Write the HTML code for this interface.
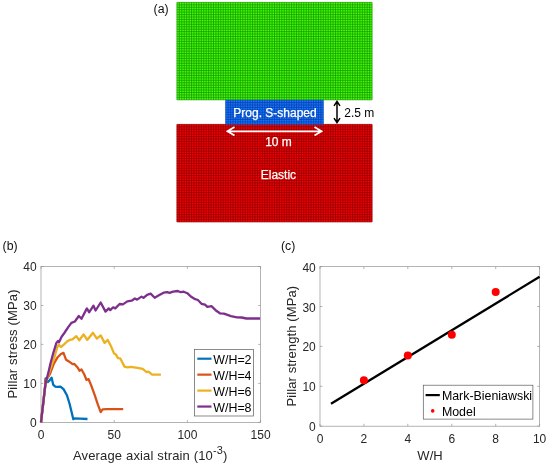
<!DOCTYPE html>
<html><head><meta charset="utf-8"><title>Figure</title>
<style>
html,body{margin:0;padding:0;background:#fff}
svg{display:block}
text{font-family:"Liberation Sans",Arial,sans-serif;fill:#262626}
.t{font-size:12px}
.l{font-size:13px}
.w{fill:#fff;stroke:#fff;stroke-width:.25px;font-size:12px}
.k{fill:#000;font-size:12px}
.p{font-size:12.3px;fill:#111}
.g{font-size:12.4px;fill:#000}
</style></head><body>
<svg width="550" height="467" viewBox="0 0 550 467">
<rect width="550" height="467" fill="#fff"/>
<rect x="176.9" y="2.4" width="195.2" height="97.4" fill="#40ff08"/><path d="M176.90,2.4v97.4M179.34,2.4v97.4M181.78,2.4v97.4M184.22,2.4v97.4M186.66,2.4v97.4M189.10,2.4v97.4M191.54,2.4v97.4M193.98,2.4v97.4M196.42,2.4v97.4M198.86,2.4v97.4M201.30,2.4v97.4M203.74,2.4v97.4M206.18,2.4v97.4M208.62,2.4v97.4M211.06,2.4v97.4M213.50,2.4v97.4M215.94,2.4v97.4M218.38,2.4v97.4M220.82,2.4v97.4M223.26,2.4v97.4M225.70,2.4v97.4M228.14,2.4v97.4M230.58,2.4v97.4M233.02,2.4v97.4M235.46,2.4v97.4M237.90,2.4v97.4M240.34,2.4v97.4M242.78,2.4v97.4M245.22,2.4v97.4M247.66,2.4v97.4M250.10,2.4v97.4M252.54,2.4v97.4M254.98,2.4v97.4M257.42,2.4v97.4M259.86,2.4v97.4M262.30,2.4v97.4M264.74,2.4v97.4M267.18,2.4v97.4M269.62,2.4v97.4M272.06,2.4v97.4M274.50,2.4v97.4M276.94,2.4v97.4M279.38,2.4v97.4M281.82,2.4v97.4M284.26,2.4v97.4M286.70,2.4v97.4M289.14,2.4v97.4M291.58,2.4v97.4M294.02,2.4v97.4M296.46,2.4v97.4M298.90,2.4v97.4M301.34,2.4v97.4M303.78,2.4v97.4M306.22,2.4v97.4M308.66,2.4v97.4M311.10,2.4v97.4M313.54,2.4v97.4M315.98,2.4v97.4M318.42,2.4v97.4M320.86,2.4v97.4M323.30,2.4v97.4M325.74,2.4v97.4M328.18,2.4v97.4M330.62,2.4v97.4M333.06,2.4v97.4M335.50,2.4v97.4M337.94,2.4v97.4M340.38,2.4v97.4M342.82,2.4v97.4M345.26,2.4v97.4M347.70,2.4v97.4M350.14,2.4v97.4M352.58,2.4v97.4M355.02,2.4v97.4M357.46,2.4v97.4M359.90,2.4v97.4M362.34,2.4v97.4M364.78,2.4v97.4M367.22,2.4v97.4M369.66,2.4v97.4M372.10,2.4v97.4M176.9,2.40h195.2M176.9,4.83h195.2M176.9,7.27h195.2M176.9,9.71h195.2M176.9,12.14h195.2M176.9,14.58h195.2M176.9,17.01h195.2M176.9,19.45h195.2M176.9,21.88h195.2M176.9,24.31h195.2M176.9,26.75h195.2M176.9,29.19h195.2M176.9,31.62h195.2M176.9,34.05h195.2M176.9,36.49h195.2M176.9,38.92h195.2M176.9,41.36h195.2M176.9,43.80h195.2M176.9,46.23h195.2M176.9,48.66h195.2M176.9,51.10h195.2M176.9,53.54h195.2M176.9,55.97h195.2M176.9,58.41h195.2M176.9,60.84h195.2M176.9,63.27h195.2M176.9,65.71h195.2M176.9,68.15h195.2M176.9,70.58h195.2M176.9,73.02h195.2M176.9,75.45h195.2M176.9,77.89h195.2M176.9,80.32h195.2M176.9,82.76h195.2M176.9,85.19h195.2M176.9,87.62h195.2M176.9,90.06h195.2M176.9,92.50h195.2M176.9,94.93h195.2M176.9,97.37h195.2M176.9,99.80h195.2" stroke="#189200" stroke-width="0.7" fill="none"/>
<rect x="176.9" y="124.4" width="195.2" height="97.5" fill="#fc0002"/><path d="M176.90,124.4v97.5M179.34,124.4v97.5M181.78,124.4v97.5M184.22,124.4v97.5M186.66,124.4v97.5M189.10,124.4v97.5M191.54,124.4v97.5M193.98,124.4v97.5M196.42,124.4v97.5M198.86,124.4v97.5M201.30,124.4v97.5M203.74,124.4v97.5M206.18,124.4v97.5M208.62,124.4v97.5M211.06,124.4v97.5M213.50,124.4v97.5M215.94,124.4v97.5M218.38,124.4v97.5M220.82,124.4v97.5M223.26,124.4v97.5M225.70,124.4v97.5M228.14,124.4v97.5M230.58,124.4v97.5M233.02,124.4v97.5M235.46,124.4v97.5M237.90,124.4v97.5M240.34,124.4v97.5M242.78,124.4v97.5M245.22,124.4v97.5M247.66,124.4v97.5M250.10,124.4v97.5M252.54,124.4v97.5M254.98,124.4v97.5M257.42,124.4v97.5M259.86,124.4v97.5M262.30,124.4v97.5M264.74,124.4v97.5M267.18,124.4v97.5M269.62,124.4v97.5M272.06,124.4v97.5M274.50,124.4v97.5M276.94,124.4v97.5M279.38,124.4v97.5M281.82,124.4v97.5M284.26,124.4v97.5M286.70,124.4v97.5M289.14,124.4v97.5M291.58,124.4v97.5M294.02,124.4v97.5M296.46,124.4v97.5M298.90,124.4v97.5M301.34,124.4v97.5M303.78,124.4v97.5M306.22,124.4v97.5M308.66,124.4v97.5M311.10,124.4v97.5M313.54,124.4v97.5M315.98,124.4v97.5M318.42,124.4v97.5M320.86,124.4v97.5M323.30,124.4v97.5M325.74,124.4v97.5M328.18,124.4v97.5M330.62,124.4v97.5M333.06,124.4v97.5M335.50,124.4v97.5M337.94,124.4v97.5M340.38,124.4v97.5M342.82,124.4v97.5M345.26,124.4v97.5M347.70,124.4v97.5M350.14,124.4v97.5M352.58,124.4v97.5M355.02,124.4v97.5M357.46,124.4v97.5M359.90,124.4v97.5M362.34,124.4v97.5M364.78,124.4v97.5M367.22,124.4v97.5M369.66,124.4v97.5M372.10,124.4v97.5M176.9,124.40h195.2M176.9,126.84h195.2M176.9,129.28h195.2M176.9,131.71h195.2M176.9,134.15h195.2M176.9,136.59h195.2M176.9,139.03h195.2M176.9,141.46h195.2M176.9,143.90h195.2M176.9,146.34h195.2M176.9,148.78h195.2M176.9,151.21h195.2M176.9,153.65h195.2M176.9,156.09h195.2M176.9,158.53h195.2M176.9,160.96h195.2M176.9,163.40h195.2M176.9,165.84h195.2M176.9,168.28h195.2M176.9,170.71h195.2M176.9,173.15h195.2M176.9,175.59h195.2M176.9,178.03h195.2M176.9,180.46h195.2M176.9,182.90h195.2M176.9,185.34h195.2M176.9,187.78h195.2M176.9,190.21h195.2M176.9,192.65h195.2M176.9,195.09h195.2M176.9,197.53h195.2M176.9,199.96h195.2M176.9,202.40h195.2M176.9,204.84h195.2M176.9,207.28h195.2M176.9,209.71h195.2M176.9,212.15h195.2M176.9,214.59h195.2M176.9,217.03h195.2M176.9,219.46h195.2M176.9,221.90h195.2" stroke="#8a0004" stroke-width="0.75" fill="none"/>
<rect x="225.7" y="100.2" width="97.6" height="24.1" fill="#1478ff"/><path d="M225.70,100.2v24.1M228.14,100.2v24.1M230.58,100.2v24.1M233.02,100.2v24.1M235.46,100.2v24.1M237.90,100.2v24.1M240.34,100.2v24.1M242.78,100.2v24.1M245.22,100.2v24.1M247.66,100.2v24.1M250.10,100.2v24.1M252.54,100.2v24.1M254.98,100.2v24.1M257.42,100.2v24.1M259.86,100.2v24.1M262.30,100.2v24.1M264.74,100.2v24.1M267.18,100.2v24.1M269.62,100.2v24.1M272.06,100.2v24.1M274.50,100.2v24.1M276.94,100.2v24.1M279.38,100.2v24.1M281.82,100.2v24.1M284.26,100.2v24.1M286.70,100.2v24.1M289.14,100.2v24.1M291.58,100.2v24.1M294.02,100.2v24.1M296.46,100.2v24.1M298.90,100.2v24.1M301.34,100.2v24.1M303.78,100.2v24.1M306.22,100.2v24.1M308.66,100.2v24.1M311.10,100.2v24.1M313.54,100.2v24.1M315.98,100.2v24.1M318.42,100.2v24.1M320.86,100.2v24.1M323.30,100.2v24.1M225.7,100.20h97.6M225.7,102.61h97.6M225.7,105.02h97.6M225.7,107.43h97.6M225.7,109.84h97.6M225.7,112.25h97.6M225.7,114.66h97.6M225.7,117.07h97.6M225.7,119.48h97.6M225.7,121.89h97.6M225.7,124.30h97.6" stroke="#0a40ae" stroke-width="0.75" fill="none"/>
<text class="p" x="153.6" y="13.2">(a)</text>
<text class="w" x="275" y="116.6" text-anchor="middle">Prog. S-shaped</text>
<text class="w" x="278.5" y="145.6" text-anchor="middle">10 m</text>
<text class="w" x="278.4" y="178.5" text-anchor="middle">Elastic</text>
<text class="k" x="344.3" y="116.6">2.5 m</text>
<path d="M228,131.3H321.500M234.500,127L227.400,131.3L234.500,135.600M314.500,127L321.600,131.3L314.500,135.600" stroke="#fff" stroke-width="1.7" fill="none" stroke-linejoin="miter"/>
<path d="M337,102V122M334,105.800L337,101.400L340,105.800M334,118.200L337,122.600L340,118.200" stroke="#000" stroke-width="1.5" fill="none"/>
<rect x="41.0" y="266.5" width="219.6" height="155.9" fill="#fff" stroke="#949494" stroke-width="0.7"/>
<path d="M41.0,422.4v-2.4M41.0,266.5v2.4M114.2,422.4v-2.4M114.2,266.5v2.4M187.4,422.4v-2.4M187.4,266.5v2.4M260.6,422.4v-2.4M260.6,266.5v2.4M41.0,422.4h2.4M260.6,422.4h-2.4M41.0,383.4h2.4M260.6,383.4h-2.4M41.0,344.4h2.4M260.6,344.4h-2.4M41.0,305.5h2.4M260.6,305.5h-2.4M41.0,266.5h2.4M260.6,266.5h-2.4" stroke="#949494" stroke-width="0.7" fill="none"/>
<polyline points="41.0,422.4 45.3,385.0 45.5,378.5 46.4,379.8 47.9,382.0 49.6,380.4 51.6,377.7 53.3,384.9 55.3,386.6 57.3,386.8 60.5,386.6 63.7,389.4 66.9,395.2 69.5,403.5 71.7,412.5 73.3,419.2 74.6,418.4 80.4,418.7 87.5,419.0" fill="none" stroke="#0072bd" stroke-width="2.3" stroke-linejoin="round"/>
<polyline points="41.0,422.4 45.3,385.0 45.3,380.4 47.7,377.8 50.0,373.9 53.9,363.7 57.7,357.2 60.9,354.0 63.5,352.9 66.1,359.8 69.3,361.7 72.5,364.1 74.4,364.0 77.6,367.5 79.5,370.7 81.5,369.5 84.2,374.3 86.4,379.8 88.6,379.2 91.1,385.1 94.9,395.7 97.8,404.4 100.7,412.1 102.6,409.4 106.5,409.1 123.2,409.1" fill="none" stroke="#d95319" stroke-width="2.3" stroke-linejoin="round"/>
<polyline points="41.0,422.4 45.4,384.2 50.0,370.0 54.5,357.2 57.1,347.6 58.7,344.7 60.9,347.0 64.1,344.4 67.3,341.2 69.9,339.9 72.5,339.3 76.3,336.1 79.3,340.3 83.6,334.4 87.2,339.9 93.0,332.8 96.9,338.6 100.7,335.4 104.6,342.9 107.8,339.9 111.0,346.3 114.1,353.6 115.8,354.3 118.0,358.1 120.2,358.3 124.5,366.6 127.5,367.3 130.4,366.8 137.6,367.9 142.7,368.8 146.4,372.0 148.5,371.7 152.2,374.6 160.9,374.6" fill="none" stroke="#edb120" stroke-width="2.3" stroke-linejoin="round"/>
<polyline points="41.0,422.4 45.4,384.2 48.3,372.9 50.4,363.7 53.2,353.4 56.4,342.9 58.0,340.9 59.0,342.3 61.6,336.7 64.0,333.5 68.4,326.9 71.4,322.9 74.9,321.5 78.8,316.0 81.5,318.8 86.9,308.4 89.1,312.3 93.5,305.7 95.6,310.5 100.7,302.5 105.5,311.6 108.7,308.4 110.3,310.1 113.1,307.3 115.3,308.4 119.6,304.0 122.9,304.4 127.3,301.4 131.6,300.7 134.9,298.5 137.1,299.6 141.5,296.6 143.5,297.9 147.1,294.8 150.6,293.6 154.7,297.7 158.9,295.3 163.6,292.7 167.2,292.2 169.5,292.9 173.1,291.7 177.8,291.0 180.7,292.2 183.7,291.7 187.3,293.2 190.8,296.5 194.4,298.8 197.9,300.0 201.5,303.8 205.0,304.7 207.4,306.9 211.4,306.2 215.6,310.2 219.9,313.3 223.9,313.7 231.0,316.1 236.9,317.3 241.6,317.5 246.4,318.5 260.1,318.5" fill="none" stroke="#7e2f8e" stroke-width="2.3" stroke-linejoin="round"/>
<text class="t" x="41.0" y="438.8" text-anchor="middle">0</text><text class="t" x="114.2" y="438.8" text-anchor="middle">50</text><text class="t" x="187.4" y="438.8" text-anchor="middle">100</text><text class="t" x="260.6" y="438.8" text-anchor="middle">150</text><text class="t" x="36.6" y="427.2" text-anchor="end">0</text><text class="t" x="36.6" y="388.2" text-anchor="end">10</text><text class="t" x="36.6" y="349.2" text-anchor="end">20</text><text class="t" x="36.6" y="310.3" text-anchor="end">30</text><text class="t" x="36.6" y="271.3" text-anchor="end">40</text>
<text class="p" x="2.6" y="249.9">(b)</text>
<text class="l" x="73" y="460" textLength="139.800">Average axial strain (10</text><text x="213" y="454.1" font-size="11">-3</text><text class="l" x="223.100" y="460">)</text>
<text class="l" transform="translate(17.4,398.5) rotate(-90)" textLength="109">Pillar stress (MPa)</text>
<rect x="194.4" y="349.4" width="59" height="66.600" fill="#fff" stroke="#5a5a5a" stroke-width="0.7"/>
<path d="M197.300,358.7H211.500" stroke="#0072bd" stroke-width="2.2"/><text class="g" x="213.3" y="363.8">W/H=2</text>
<path d="M197.300,374.65H211.500" stroke="#d95319" stroke-width="2.2"/><text class="g" x="213.3" y="379.8">W/H=4</text>
<path d="M197.300,390.59999999999997H211.500" stroke="#edb120" stroke-width="2.2"/><text class="g" x="213.3" y="395.7">W/H=6</text>
<path d="M197.300,406.54999999999995H211.500" stroke="#7e2f8e" stroke-width="2.2"/><text class="g" x="213.3" y="411.6">W/H=8</text>
<rect x="320.0" y="266.6" width="219.6" height="159.6" fill="#fff" stroke="#949494" stroke-width="0.7"/>
<path d="M320.0,426.2v-2.4M320.0,266.6v2.4M363.9,426.2v-2.4M363.9,266.6v2.4M407.8,426.2v-2.4M407.8,266.6v2.4M451.8,426.2v-2.4M451.8,266.6v2.4M495.7,426.2v-2.4M495.7,266.6v2.4M539.6,426.2v-2.4M539.6,266.6v2.4M320.0,426.2h2.4M539.6,426.2h-2.4M320.0,386.3h2.4M539.6,386.3h-2.4M320.0,346.4h2.4M539.6,346.4h-2.4M320.0,306.5h2.4M539.6,306.5h-2.4M320.0,266.6h2.4M539.6,266.6h-2.4" stroke="#949494" stroke-width="0.7" fill="none"/>
<path d="M331.0,403.7L539.6,276.8" stroke="#000" stroke-width="2.3" fill="none"/>
<circle cx="363.9" cy="380.3" r="4" fill="#ff0000"/><circle cx="407.8" cy="355.6" r="4" fill="#ff0000"/><circle cx="451.8" cy="334.8" r="4" fill="#ff0000"/><circle cx="495.7" cy="292.1" r="4" fill="#ff0000"/><text class="t" x="320.0" y="442.8" text-anchor="middle">0</text><text class="t" x="363.9" y="442.8" text-anchor="middle">2</text><text class="t" x="407.8" y="442.8" text-anchor="middle">4</text><text class="t" x="451.8" y="442.8" text-anchor="middle">6</text><text class="t" x="495.7" y="442.8" text-anchor="middle">8</text><text class="t" x="539.6" y="442.8" text-anchor="middle">10</text><text class="t" x="315.8" y="431.2" text-anchor="end">0</text><text class="t" x="315.8" y="391.3" text-anchor="end">10</text><text class="t" x="315.8" y="351.4" text-anchor="end">20</text><text class="t" x="315.8" y="311.5" text-anchor="end">30</text><text class="t" x="315.8" y="271.6" text-anchor="end">40</text>
<text class="p" x="281" y="249.8">(c)</text>
<text class="l" x="430" y="460.2" text-anchor="middle">W/H</text>
<text class="l" transform="translate(296.300,406.5) rotate(-90)" textLength="120.600">Pillar strength (MPa)</text>
<rect x="423.300" y="385.2" width="109.600" height="33.900" fill="#fff" stroke="#5a5a5a" stroke-width="0.7"/>
<path d="M425.600,395.1H439.800" stroke="#000" stroke-width="2.2"/>
<circle cx="432.700" cy="410.9" r="1.8" fill="#ff0000"/>
<text class="g" x="441.900" y="399.9">Mark-Bieniawski</text>
<text class="g" x="441.900" y="415.7">Model</text>
</svg>
</body></html>
